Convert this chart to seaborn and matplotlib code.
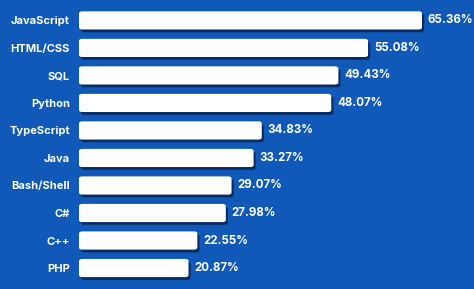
import pandas as pd
import seaborn as sns
import matplotlib.pyplot as plt
import matplotlib.patheffects as pe
from matplotlib.patches import FancyBboxPatch

languages = ["JavaScript", "HTML/CSS", "SQL", "Python", "TypeScript",
             "Java", "Bash/Shell", "C#", "C++", "PHP"]
share = [65.36, 55.08, 49.43, 48.07, 34.83, 33.27, 29.07, 27.98, 22.55, 20.87]

df = pd.DataFrame({"language": languages, "share": share})

bg = "#1059b8"
sns.set_style("white")
plt.rcParams["font.family"] = ["Inter", "DejaVu Sans"]

fig = plt.figure(figsize=(4.74, 2.89), dpi=100, facecolor=bg)
ax = fig.add_axes([79 / 474, 0.025, 1 - 79 / 474, 0.952])
ax.set_facecolor(bg)

sns.barplot(data=df, x="share", y="language", color="white", width=0.66,
            ax=ax, saturation=1)

# swap the square bars for rounded ones with a soft shadow
for bar in list(ax.patches):
    x, y, w, h = bar.get_x(), bar.get_y(), bar.get_width(), bar.get_height()
    bar.remove()
    box = FancyBboxPatch((x, y), w, h,
                         boxstyle="round,pad=0,rounding_size=0.6",
                         mutation_aspect=0.12,
                         facecolor="white", edgecolor="none", zorder=3)
    box.set_path_effects([pe.SimplePatchShadow(offset=(1.5, -2.0),
                                               shadow_rgbFace="#061c45",
                                               alpha=0.75),
                          pe.Normal()])
    ax.add_patch(box)

for i, v in enumerate(share):
    ax.text(v + 1.1, i, f"{v:.2f}%", va="center", ha="left", color="white",
            fontsize=8.3, fontweight="bold")

ax.set_xlim(0, 65.36 * 395 / 343)
ax.set_ylim(9.5, -0.5)
ax.set_xlabel("")
ax.set_ylabel("")
ax.set_xticks([])
ax.tick_params(axis="y", length=0, pad=6.5, labelcolor="white", labelsize=8.0)
for lab in ax.get_yticklabels():
    lab.set_fontweight("bold")
sns.despine(ax=ax, left=True, bottom=True)

fig.savefig("out.png", dpi=100, facecolor=bg)
